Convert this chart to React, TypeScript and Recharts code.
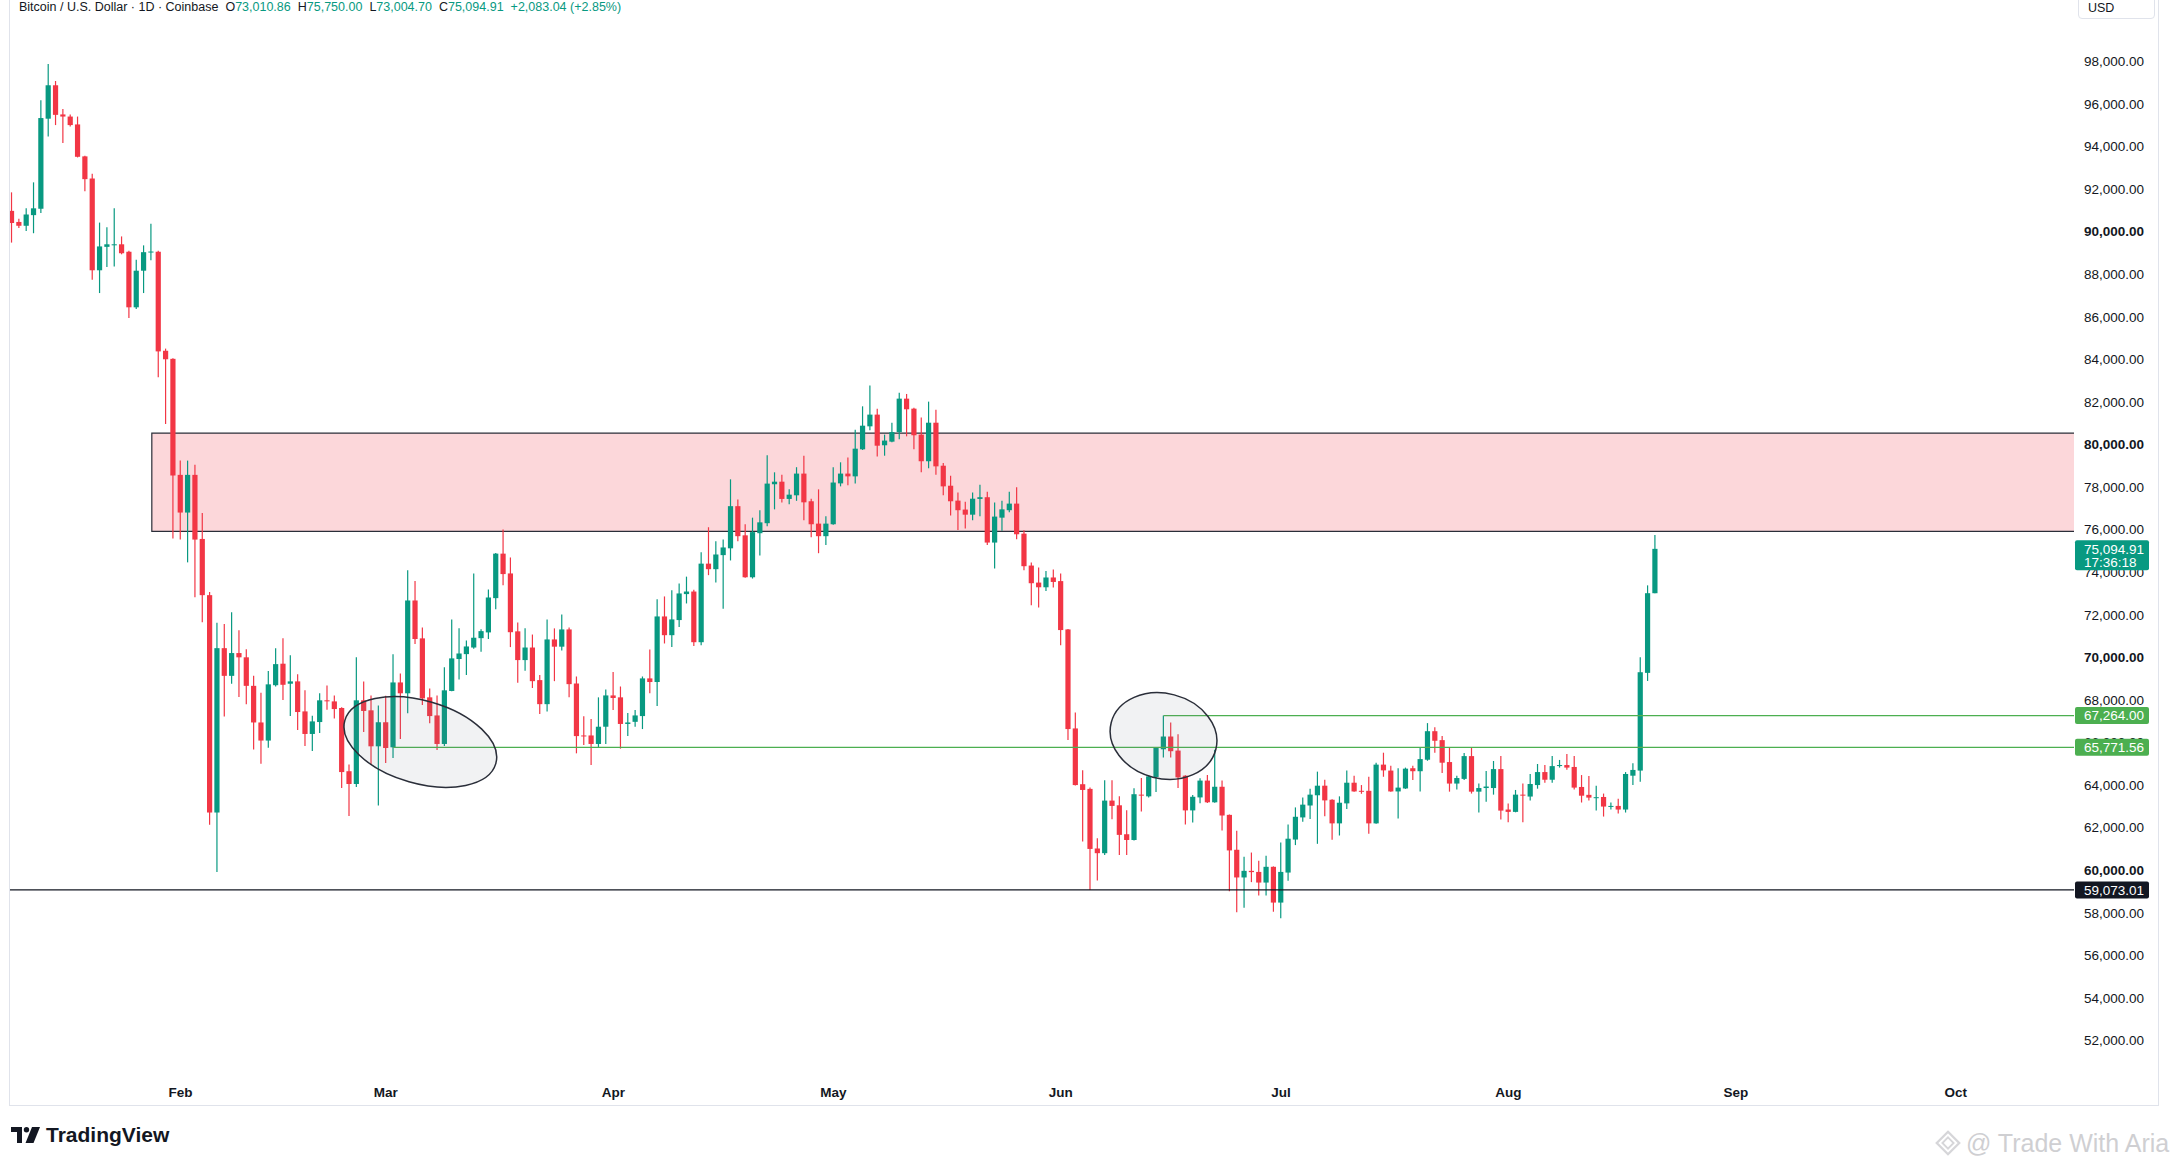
import React from 'react';
import {
  ComposedChart, Bar, XAxis, YAxis, ReferenceArea, ReferenceLine, ReferenceDot,
} from 'recharts';

// BTC/USD daily candles, first candle = 2026-01-09
const OPEN = [
  90970, 90450, 90270, 90770, 91070, 95300, 96870, 95500, 95400, 95030,
  93530, 92490, 88180, 89280, 89380, 89400, 89050, 86440, 88160, 89030,
  89050, 84400, 84020, 78570, 76800, 78570, 75560, 72920, 62710, 70430,
  69130, 70200, 70000, 68660, 66940, 66090, 68690, 69700, 68760, 68870,
  67460, 66400, 66960, 67980, 67930, 67620, 64650, 64050, 67980, 67510,
  65820, 66950, 65771.56, 68820, 68310, 72670, 70890, 68120, 67270, 65930,
  68420, 69920, 70150, 70460, 70900, 71170, 72780, 74870, 73940, 71220,
  69870, 70460, 68930, 67800, 70840, 70500, 71310, 68770, 66330, 66330,
  65930, 66740, 68210, 68120, 66870, 66970, 67240, 69010, 68840, 71920,
  71040, 71750, 72970, 73090, 70710, 74400, 74140, 74800, 75120, 77100,
  75730, 73760, 75830, 76300, 78130, 78250, 77440, 77610, 78630, 77330,
  76280, 75690, 76250, 78170, 78630, 78500, 79770, 80850, 81400, 79960,
  80130, 80580, 82150, 81680, 80460, 79210, 81020, 79000, 78060, 77360,
  76940, 76700, 77440, 77520, 75390, 76560, 76910, 77220, 75810, 74310,
  73510, 73290, 73750, 73580, 71310, 66660, 64040, 63820, 61020, 60800,
  63270, 63050, 61690, 61420, 63550, 63470, 64380, 65680, 66280, 65620,
  64440, 62810, 63420, 64210, 63190, 63920, 62600, 60960, 59660, 59970,
  59920, 59420, 60160, 58480, 59890, 61440, 62480, 63040, 63520, 63970,
  63310, 62200, 63140, 64110, 63730, 63730, 62200, 64960, 64680, 63700,
  63840, 64790, 64650, 65190, 66530, 66110, 65080, 64070, 64290, 65360,
  63690, 63860, 63860, 64750, 62850, 62740, 63550, 63460, 64000, 64610,
  64250, 64910, 64940, 64850, 63910, 63540, 63410, 63440, 62990, 63020,
  62850, 64440, 64680, 69270, 73010.86,
];

const HIGH = [
  91840, 90600, 91090, 92310, 96170, 97870, 97070, 95750, 95500, 95400,
  93560, 92710, 90420, 90200, 91090, 89770, 89100, 88680, 89350, 90370,
  89100, 84500, 84050, 79240, 79240, 79040, 76780, 73070, 71620, 71570,
  72120, 71270, 70380, 69130, 68340, 69360, 70430, 70900, 70100, 69200,
  68450, 67260, 68310, 68680, 68210, 67650, 64970, 70000, 68870, 68210,
  67740, 68200, 70140, 69240, 74090, 73580, 71400, 68540, 68210, 69530,
  71780, 71360, 70790, 73940, 71320, 73190, 74900, 76000, 74690, 71640,
  71360, 71070, 69170, 71780, 71360, 72010, 71400, 69100, 67230, 67100,
  68120, 68490, 69310, 68630, 67380, 67520, 69100, 70370, 72730, 72860,
  73150, 73470, 73790, 73170, 74940, 76110, 75450, 75530, 78360, 77410,
  76250, 76560, 76910, 79490, 78690, 78580, 77890, 78930, 79470, 77450,
  77890, 76630, 78930, 79160, 79390, 80690, 81790, 82770, 81680, 80460,
  81020, 82430, 82370, 81720, 81260, 82010, 81630, 79130, 78530, 77740,
  77310, 77740, 78110, 77780, 77270, 77360, 77780, 77990, 75970, 74450,
  74220, 74050, 74120, 73940, 71330, 67410, 64690, 63880, 61500, 64220,
  64220, 63470, 62820, 63850, 64330, 64460, 65790, 67264, 66940, 66390,
  64460, 63530, 64320, 64470, 65660, 64210, 62620, 61850, 60630, 60830,
  60440, 60680, 60180, 61300, 62150, 62950, 63420, 63830, 64630, 64250,
  63330, 63470, 64680, 64440, 64000, 64390, 65050, 65520, 64910, 64790,
  64820, 64910, 65740, 66910, 66720, 66300, 65780, 64440, 65500, 65750,
  64070, 64660, 65130, 65360, 63130, 63770, 64070, 64520, 64990, 64940,
  65360, 65180, 65460, 65360, 64470, 64430, 63970, 63600, 63180, 63360,
  64610, 65030, 70000, 73380, 75750,
];

const LOW = [
  89480, 90170, 90020, 89920, 90870, 94460, 95000, 94160, 94930, 93480,
  91890, 87730, 87110, 88330, 88360, 88930, 85940, 86360, 87110, 88650,
  83150, 80960, 75580, 75530, 74460, 72820, 71650, 62140, 59920, 67220,
  68760, 68140, 67790, 65670, 65000, 65750, 68630, 67990, 67240, 66590,
  65830, 65600, 66440, 67540, 67130, 63860, 62550, 63910, 66490, 64940,
  63040, 65040, 65270, 66160, 67370, 70620, 67760, 66900, 65650, 65840,
  68410, 68960, 69170, 70400, 70260, 70860, 72260, 73390, 70480, 68810,
  69370, 68560, 67340, 67450, 68880, 70320, 68120, 65490, 65880, 64940,
  65760, 65930, 67520, 65710, 66300, 66740, 66630, 68310, 67710, 70650,
  70480, 71420, 72530, 70530, 70570, 73860, 73510, 72280, 74550, 75450,
  73740, 73700, 74780, 76160, 76950, 77270, 77190, 77350, 76440, 75640,
  74890, 75270, 76230, 78030, 78080, 78160, 79740, 80660, 79430, 79470,
  80100, 80240, 80380, 79770, 78690, 78880, 78580, 77610, 76660, 75980,
  76050, 76440, 76630, 75270, 74170, 75940, 76810, 75550, 74090, 72450,
  72340, 73110, 73280, 70570, 66120, 63980, 61350, 59073.01, 59520, 60720,
  62390, 60720, 60720, 61400, 62760, 63420, 63670, 65300, 65300, 63860,
  62150, 62240, 63140, 63160, 63170, 61870, 59010, 58020, 58240, 59440,
  58810, 58810, 58050, 57740, 59510, 61180, 62280, 62400, 61240, 62530,
  61430, 61630, 62870, 63680, 63590, 61710, 62180, 64390, 63680, 62430,
  63820, 64240, 63700, 65140, 65520, 64570, 63690, 63790, 64240, 63600,
  62710, 63220, 63550, 62380, 62250, 62720, 62250, 63270, 63830, 64110,
  64110, 64820, 64720, 63790, 63180, 63270, 62800, 62520, 62850, 62660,
  62710, 64000, 64160, 68890, 73004.70,
];

const CLOSE = [
  90400, 90270, 90800, 91090, 95330, 96870, 95480, 95400, 95000, 93510,
  92460, 88180, 89300, 89400, 89400, 88980, 86440, 88160, 89030, 89060,
  84370, 84000, 78540, 76800, 78570, 75530, 72920, 62710, 70430, 69130,
  70200, 70000, 68660, 66940, 66090, 68730, 69680, 68710, 68870, 67430,
  66400, 66990, 67980, 67960, 67570, 64610, 64050, 67980, 67480, 65820,
  66950, 65740, 68820, 68310, 72670, 70860, 68070, 67240, 65930, 68450,
  69950, 70180, 70510, 70920, 71230, 72810, 74870, 73910, 71180, 69870,
  70460, 68880, 67800, 70840, 70500, 71310, 68740, 66300, 66300, 65930,
  66740, 68210, 68090, 66870, 66940, 67270, 69010, 68840, 71920, 71040,
  71780, 73000, 73090, 70710, 74400, 74140, 74830, 75160, 77100, 75690,
  73760, 75880, 76340, 78160, 78250, 77440, 77640, 78630, 77280, 76250,
  75690, 76280, 78210, 78630, 78500, 79800, 80880, 81400, 79940, 80180,
  80580, 82150, 81650, 80430, 79210, 81020, 78970, 78030, 77330, 76910,
  76700, 77450, 77520, 75390, 76610, 76950, 77220, 75780, 74280, 73480,
  73290, 73750, 73540, 71280, 66630, 64000, 63770, 61000, 60800, 63270,
  63020, 61660, 61420, 63570, 63520, 64410, 65760, 66280, 65590, 64360,
  62810, 63450, 64210, 63190, 63920, 62570, 60930, 59660, 59970, 59910,
  59420, 60160, 58480, 59920, 61480, 62510, 63080, 63550, 63970, 63280,
  62200, 63170, 64110, 63700, 63690, 62200, 64960, 64690, 63700, 63880,
  64770, 64650, 65220, 66530, 66080, 65050, 64070, 64330, 65360, 63690,
  63860, 63930, 64750, 62800, 62740, 63550, 63520, 64050, 64610, 64250,
  64890, 64940, 64820, 63880, 63500, 63410, 63430, 62990, 63020, 62850,
  64520, 64710, 69300, 73011.87, 75094.91,
];

// day index of the first of each month, counted from Jan 9
const MONTH_TICKS = [23, 51, 82, 112, 143, 173, 204, 235, 265];
const MONTH_LABELS = ['Feb', 'Mar', 'Apr', 'May', 'Jun', 'Jul', 'Aug', 'Sep', 'Oct'];

const PRICE_TICKS = [
  52000, 54000, 56000, 58000, 60000, 62000, 64000, 66000, 68000, 70000, 72000, 74000,
  76000, 78000, 80000, 82000, 84000, 86000, 88000, 90000, 92000, 94000, 96000, 98000,
];

const X_MIN = -0.23;
const X_MAX = 281.1;
const Y_MIN = 50616;
const Y_MAX = 100875;

const ZONE_TOP = 80530;
const ZONE_BOTTOM = 75920;
const ZONE_START = 19.1;

const SUPPORT = 59073.01;
const LEVEL_HIGH = 67264;
const LEVEL_LOW = 65771.56;
const LEVEL_HIGH_START = 157;
const LEVEL_LOW_START = 52;

const LAST_TIME = '17:36:18';

const GREEN = '#089981';
const RED = '#F23645';
const TEXT = '#131722';
const LEVEL_GREEN = '#4caf50';
const FONT = '"Liberation Sans", Arial, sans-serif';

const CHART_W = 2148;
const CHART_H = 1105;
const AXIS_W = 84;

const fmt = (v: number) =>
  v.toLocaleString('en-US', { minimumFractionDigits: 2, maximumFractionDigits: 2 });

const data = OPEN.map((o, i) => ({
  day: i,
  open: o,
  high: HIGH[i],
  low: LOW[i],
  close: CLOSE[i],
  range: [LOW[i], HIGH[i]],
}));

const Candle = (props: any) => {
  const { x, y, width, height, payload } = props;
  if (!payload || x == null) return null;
  const { open, close, high, low } = payload;
  const top = Math.min(y, y + height);
  const h = Math.abs(height);
  const k = h / (high - low || 1);
  const py = (v: number) => top + (high - v) * k;
  const color = close >= open ? GREEN : RED;
  const cx = x + width / 2;
  const bTop = py(Math.max(open, close));
  const bH = Math.max(1, py(Math.min(open, close)) - bTop);
  return (
    <g>
      <line x1={cx} x2={cx} y1={top} y2={top + h} stroke={color} strokeWidth={1.2} />
      <rect x={cx - 2.6} y={bTop} width={5.2} height={bH} fill={color} />
    </g>
  );
};

// rectangle drawing: filled, outlined on top, left and bottom (right side runs off into the scale)
const Zone = (props: any) => {
  const { x, y, width, height } = props;
  if (x == null) return null;
  const r = x + width;
  const b = y + height;
  return (
    <g>
      <rect x={x} y={y} width={width} height={height} fill="rgba(242,54,69,0.2)" />
      <path d={`M${r},${y} H${x} V${b} H${r}`} fill="none" stroke="#2a2e39" strokeWidth={1.2} />
    </g>
  );
};

const PriceTick = (props: any) => {
  const { x, y, payload } = props;
  const v = payload.value;
  return (
    <text x={x} y={y} dy="0.36em" textAnchor="start" fontSize={13.5}
      fontWeight={v % 10000 === 0 ? 700 : 400} fill={TEXT} fontFamily={FONT}>
      {fmt(v)}
    </text>
  );
};

const MonthTick = (props: any) => {
  const { x, y, payload } = props;
  const label = MONTH_LABELS[MONTH_TICKS.indexOf(payload.value)];
  return (
    <text x={x} y={y + 22} dy="0.36em" textAnchor="middle" fontSize={13.5}
      fontWeight={700} fill={TEXT} fontFamily={FONT}>
      {label}
    </text>
  );
};

const PriceTag = (props: any) => {
  const { viewBox, text, sub, bg } = props;
  if (!viewBox) return null;
  const left = viewBox.x + viewBox.width + 1;
  const y = viewBox.y;
  const h = sub ? 30 : 17;
  return (
    <g>
      <rect x={left} y={y - 8.5} width={74} height={h} rx={2} fill={bg} />
      <text x={left + 9} y={y} dy="0.36em" fontSize={13.5} fill="#fff" fontFamily={FONT}>{text}</text>
      {sub && (
        <text x={left + 9} y={y + 13} dy="0.36em" fontSize={13.5} fill="#fff" fontFamily={FONT}>{sub}</text>
      )}
    </g>
  );
};

const Ellipse = (props: any) => {
  const { cx, cy, rx, ry, angle } = props;
  if (cx == null) return null;
  return (
    <ellipse cx={cx} cy={cy} rx={rx} ry={ry} transform={`rotate(${angle} ${cx} ${cy})`}
      fill="rgba(120,123,134,0.10)" stroke="#2a2e39" strokeWidth={1.5} />
  );
};

export default function App() {
  const n = CLOSE.length;
  const last = { o: OPEN[n - 1], h: HIGH[n - 1], l: LOW[n - 1], c: CLOSE[n - 1] };
  const change = last.c - CLOSE[n - 2];
  const pct = (change / CLOSE[n - 2]) * 100;

  const xAxisProps = {
    dataKey: 'day', type: 'number' as const, domain: [X_MIN, X_MAX], allowDataOverflow: true,
    ticks: MONTH_TICKS, interval: 0 as const, axisLine: false, tickLine: false,
    tickSize: 0, tickMargin: 0, height: 35,
  };
  const yAxisProps = {
    orientation: 'right' as const, type: 'number' as const, domain: [Y_MIN, Y_MAX], allowDataOverflow: true,
    ticks: PRICE_TICKS, interval: 0 as const, axisLine: false, tickLine: false,
    tickSize: 0, tickMargin: 10, width: AXIS_W,
  };

  return (
    <div style={{ position: 'fixed', left: 0, top: 0, width: 2170, height: 1166, background: '#fff', overflow: 'hidden', fontFamily: FONT }}>
      {/* chart frame */}
      <div style={{ position: 'absolute', left: 9, top: -2, width: 2150, height: 1108, border: '1px solid #e0e3eb', boxSizing: 'border-box' }} />

      <div style={{ position: 'absolute', left: 10, top: 0 }}>
        <ComposedChart width={CHART_W} height={CHART_H} data={data} margin={{ top: 0, right: 0, bottom: 0, left: 0 }}>
          <XAxis {...xAxisProps} tick={<MonthTick />} />
          <YAxis {...yAxisProps} tick={<PriceTick />} />

          <ReferenceArea x1={ZONE_START} x2={X_MAX} y1={ZONE_BOTTOM} y2={ZONE_TOP} shape={<Zone />} />

          <ReferenceDot x={55.7} y={66023} r={1} shape={<Ellipse rx={78.5} ry={41.4} angle={16} />} />
          <ReferenceDot x={157} y={66304} r={1} shape={<Ellipse rx={54} ry={42.5} angle={14.5} />} />

          <ReferenceLine y={SUPPORT} stroke={TEXT} strokeWidth={1.2} />
          <ReferenceLine segment={[{ x: LEVEL_HIGH_START, y: LEVEL_HIGH }, { x: X_MAX, y: LEVEL_HIGH }]}
            stroke={LEVEL_GREEN} strokeWidth={1.2} />
          <ReferenceLine segment={[{ x: LEVEL_LOW_START, y: LEVEL_LOW }, { x: X_MAX, y: LEVEL_LOW }]}
            stroke={LEVEL_GREEN} strokeWidth={1.2} />

          <Bar dataKey="range" barSize={5} shape={<Candle />} isAnimationActive={false} />
        </ComposedChart>
      </div>

      {/* price tags sit on top of the scale labels */}
      <div style={{ position: 'absolute', left: 10, top: 0, pointerEvents: 'none' }}>
        <ComposedChart width={CHART_W} height={CHART_H} data={data} margin={{ top: 0, right: 0, bottom: 0, left: 0 }}>
          <XAxis {...xAxisProps} tick={false} />
          <YAxis {...yAxisProps} tick={false} />
          <ReferenceLine y={LEVEL_HIGH} stroke="none" label={<PriceTag text={fmt(LEVEL_HIGH)} bg={LEVEL_GREEN} />} />
          <ReferenceLine y={LEVEL_LOW} stroke="none" label={<PriceTag text={fmt(LEVEL_LOW)} bg={LEVEL_GREEN} />} />
          <ReferenceLine y={SUPPORT} stroke="none" label={<PriceTag text={fmt(SUPPORT)} bg={TEXT} />} />
          <ReferenceLine y={last.c} stroke="none" label={<PriceTag text={fmt(last.c)} sub={LAST_TIME} bg={GREEN} />} />
        </ComposedChart>
      </div>

      {/* legend header */}
      <div style={{ position: 'absolute', left: 19, top: 0, fontSize: 12.5, lineHeight: '14px', color: TEXT, whiteSpace: 'nowrap' }}>
        Bitcoin / U.S. Dollar · 1D · Coinbase
        <span style={{ marginLeft: 7 }}>O<span style={{ color: GREEN }}>{fmt(last.o)}</span></span>
        <span style={{ marginLeft: 7 }}>H<span style={{ color: GREEN }}>{fmt(last.h)}</span></span>
        <span style={{ marginLeft: 7 }}>L<span style={{ color: GREEN }}>{fmt(last.l)}</span></span>
        <span style={{ marginLeft: 7 }}>C<span style={{ color: GREEN }}>{fmt(last.c)}</span></span>
        <span style={{ marginLeft: 7, color: GREEN }}>+{fmt(change)} (+{pct.toFixed(2)}%)</span>
      </div>

      {/* currency box */}
      <div style={{ position: 'absolute', left: 2078, top: -4, width: 77, height: 23, border: '1px solid #e0e3eb', borderRadius: 4, boxSizing: 'border-box', fontSize: 12.5, color: TEXT, paddingLeft: 9, paddingTop: 4 }}>
        USD
      </div>

      {/* watermarks */}
      <div style={{ position: 'absolute', left: 11, top: 1124, display: 'flex', alignItems: 'center', color: TEXT }}>
        <svg width={30} height={16} viewBox="0 0 30 16">
          <path d="M0 0h11v16H6V5H0z" fill={TEXT} />
          <circle cx={15.5} cy={2.7} r={2.7} fill={TEXT} />
          <path d="M21 0h8l-6.5 16h-8z" fill={TEXT} />
        </svg>
        <span style={{ marginLeft: 5, fontSize: 21, fontWeight: 700, lineHeight: '21px' }}>TradingView</span>
      </div>
      <div style={{ position: 'absolute', left: 1934, top: 1129, display: 'flex', alignItems: 'center', color: '#cfcfd2', whiteSpace: 'nowrap' }}>
        <svg width={28} height={28} viewBox="0 0 30 30">
          <path d="M15 3 L27 15 L15 27 L3 15 Z" fill="none" stroke="#d6d6d9" strokeWidth={2.5} />
          <path d="M15 9 L21 15 L15 21 L9 15 Z" fill="none" stroke="#d6d6d9" strokeWidth={2} />
        </svg>
        <span style={{ marginLeft: 4, fontSize: 25, lineHeight: '26px' }}>@ Trade With Aria</span>
      </div>
    </div>
  );
}
